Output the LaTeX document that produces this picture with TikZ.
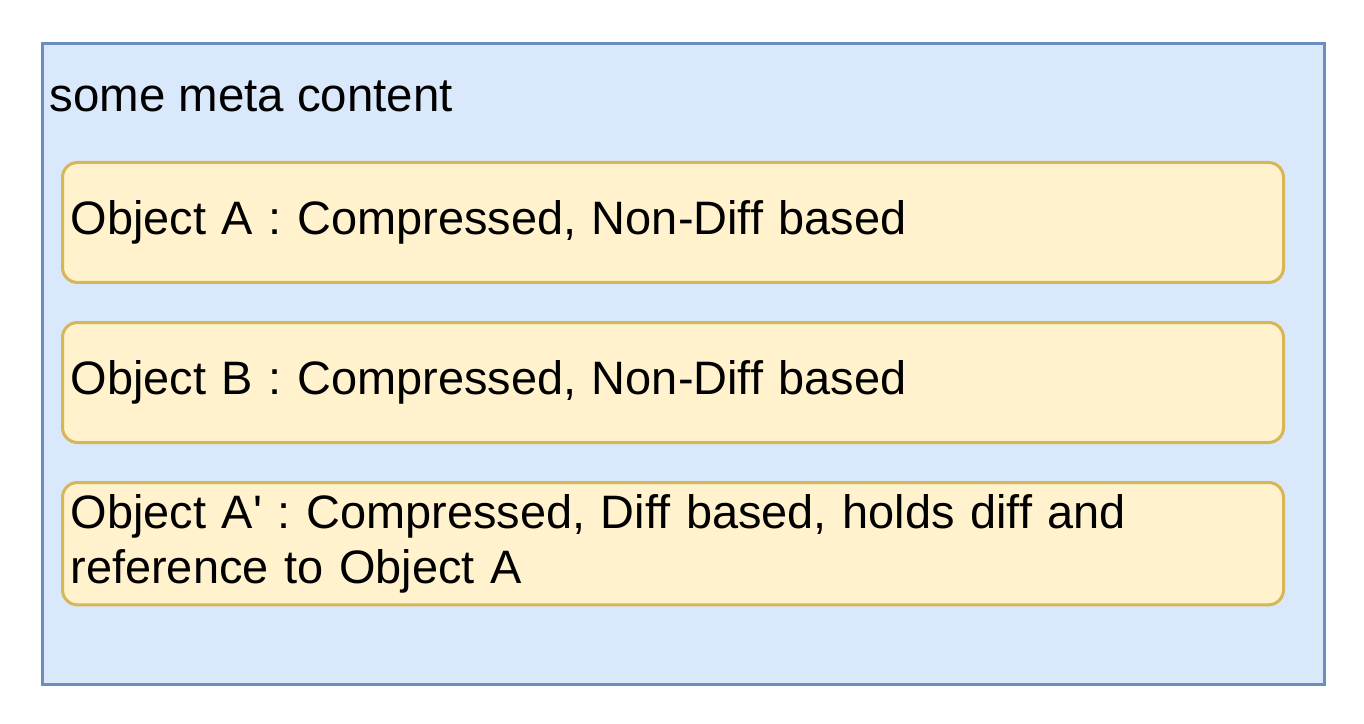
\documentclass[tikz,border=0pt]{standalone}
\usepackage{fontspec}
\setmainfont{Liberation Sans}
\usepackage{xcolor}

\definecolor{metafill}{HTML}{DAE8FC}
\definecolor{metaline}{HTML}{6C8EBF}
\definecolor{objfill}{HTML}{FFF2CC}
\definecolor{objline}{HTML}{D6B656}

\begin{document}
\begin{tikzpicture}[x=0.1mm, y=-0.1mm, thick,
    every node/.style={font=\fontsize{13.35pt}{15.7pt}\selectfont},
    metabox/.style={draw=metaline, fill=metafill, line width=0.3mm, anchor=north west,
        minimum width=128.2mm, minimum height=64.1mm, inner sep=0pt},
    objbox/.style={draw=objline, fill=objfill, line width=0.3mm, rounded corners=1.5mm,
        anchor=north west, text width=120.5mm, align=left, inner xsep=0.8mm,
        minimum height=12mm}]
    \useasboundingbox (0,0) rectangle (1364,724);
    % contenedor
    \node[metabox] (meta) at (41,42) {};
    \node[anchor=base west, inner sep=0pt, font=\fontsize{13.5pt}{15.7pt}\selectfont] (metalabel) at (48,112) {some meta content};
    % objetos
    \foreach \y/\nm/\txt in {161/objA/{Object A : Compressed, Non-Diff based},
                             321/objB/{Object B : Compressed, Non-Diff based},
                             481/objAp/{Object A\textquotesingle{} : Compressed, Diff based, holds diff and\\reference to Object A}} {
        \node[objbox] (\nm) at (61,\y) {\txt};
    }
\end{tikzpicture}
\end{document}
